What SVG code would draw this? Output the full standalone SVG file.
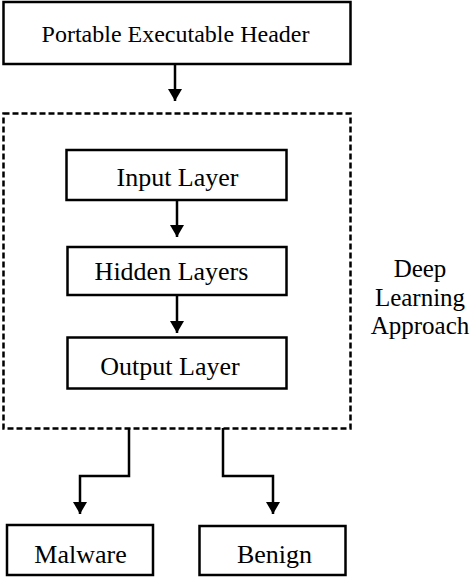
<svg xmlns="http://www.w3.org/2000/svg" width="474" height="579" viewBox="0 0 474 579">
<defs>
<style>
.box{fill:#fff;stroke:#000;stroke-width:2.5}
.t{font-family:"Liberation Serif","Times New Roman",serif;font-size:26px;fill:#000;text-anchor:middle}
.c{fill:none;stroke:#000;stroke-width:2.5}
</style>
<marker id="ah" viewBox="0 0 12 14" refX="12" refY="7" markerWidth="12" markerHeight="14" markerUnits="userSpaceOnUse" orient="auto">
<path d="M0,0 L12,7 L0,14 Z" fill="#000"/>
</marker>
</defs>
<rect width="474" height="579" fill="#fff"/>
<g id="container">
<rect x="3.5" y="113.5" width="347" height="315" fill="none" stroke="#000" stroke-width="2.5" stroke-dasharray="6,3"/>
<text class="t" x="420" y="277" style="font-size:25px">Deep</text>
<text class="t" x="420" y="306" style="font-size:25px">Learning</text>
<text class="t" x="420" y="334" style="font-size:25px">Approach</text>
</g>
<g id="pe-header">
<rect class="box" x="3.5" y="2" width="347" height="62"/>
<text class="t" x="175.5" y="42" style="font-size:24px">Portable Executable Header</text>
</g>
<g id="input-layer">
<rect class="box" x="66.5" y="150" width="220" height="50"/>
<text class="t" x="177.5" y="186">Input Layer</text>
</g>
<g id="hidden-layers">
<rect class="box" x="67.5" y="247" width="219" height="48"/>
<text class="t" x="171.5" y="280">Hidden Layers</text>
</g>
<g id="output-layer">
<rect class="box" x="67.5" y="337.5" width="219" height="51"/>
<text class="t" x="170" y="375">Output Layer</text>
</g>
<g id="malware">
<rect class="box" x="7" y="525" width="146" height="50"/>
<text class="t" x="80.5" y="563">Malware</text>
</g>
<g id="benign">
<rect class="box" x="199.5" y="526" width="146" height="49"/>
<text class="t" x="274.5" y="563">Benign</text>
</g>
<g id="connectors">
<path class="c" d="M175,64 V101" marker-end="url(#ah)"/>
<path class="c" d="M177,200 V237" marker-end="url(#ah)"/>
<path class="c" d="M177,295 V333" marker-end="url(#ah)"/>
<path class="c" d="M129,428 V476 H80 V514" marker-end="url(#ah)"/>
<path class="c" d="M223,428 V476 H273 V514" marker-end="url(#ah)"/>
</g>
</svg>
